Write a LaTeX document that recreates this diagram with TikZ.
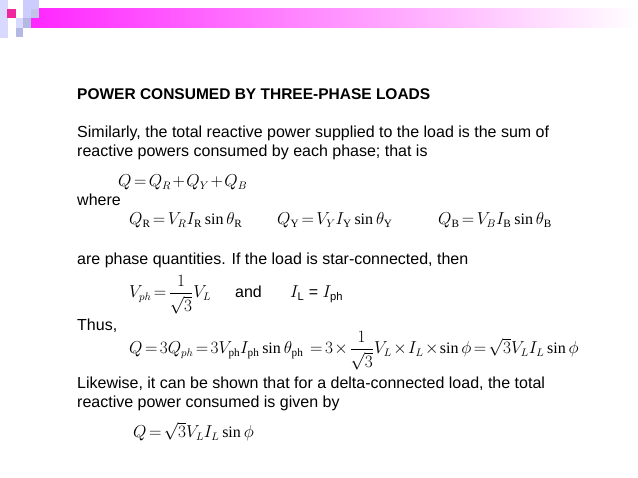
\documentclass[tikz,border=0pt]{standalone}
\usepackage{amsmath}
\usepackage{fontspec}
\setmainfont{Liberation Sans}
\setmathrm{Liberation Serif}
\begin{document}
\medmuskip=1.5mu \thickmuskip=2.5mu
\begin{tikzpicture}[x=1pt,y=-1pt,
  txt/.style={anchor=base west,inner sep=0pt,font=\fontsize{16}{19}\selectfont},
  eq/.style={anchor=base west,inner sep=0pt,font=\fontsize{16}{19}\selectfont}]
\useasboundingbox[fill=white] (0,0) rectangle (638,478);
% decoration
\shade[left color=magenta!85,right color=white] (30,9) rectangle (638,28);
\fill[blue!15] (0,0) rectangle (8,38);
\fill[blue!20] (23,0) rectangle (39,18);
\fill[blue!15] (23,18) rectangle (31,28);
\fill[magenta!85] (7,9) rectangle (16,18);
\fill[cyan!30!blue!25] (31,9) rectangle (39,18);
\fill[cyan!30!blue!30] (16,28) rectangle (23,37);
\fill[cyan!30!blue!30] (23,18) rectangle (31,28);
\fill[blue!15] (16,18) rectangle (23,28);
% text
\node[txt,font=\fontsize{15.5}{18}\selectfont\bfseries] (t) at (77,100) {POWER CONSUMED BY THREE-PHASE LOADS};
\node[txt] (l1) at (77,138) {Similarly, the total reactive power supplied to the load is the sum of};
\node[txt] (l2) at (77,157) {reactive powers consumed by each phase; that is};
\node[eq] (e1) at (118,187) {$Q=Q_R+Q_Y+Q_B$};
\node[txt] (w) at (77,206) {where};
\node[eq] (e2) at (129,225) {$Q_{\mathrm R}=V_RI_{\mathrm R}\sin\theta_{\mathrm R}$};
\node[eq] (e3) at (277,225) {$Q_{\mathrm Y}=V_YI_{\mathrm Y}\sin\theta_{\mathrm Y}$};
\node[eq] (e4) at (438,225) {$Q_{\mathrm B}=V_BI_{\mathrm B}\sin\theta_{\mathrm B}$};
\node[txt] (l3) at (77,265) {are phase quantities. If the load is star-connected, then};
\node[eq] (e5) at (129,298) {$V_{ph}=\dfrac{1}{\sqrt3}V_L$};
\node[txt] (and) at (235,298) {and};
\node[txt] (e6) at (290,298) {$I_{\text{L}}$ = $I_{\text{ph}}$};
\node[txt] (th) at (77,331) {Thus,};
\node[eq] (e7) at (129,354) {$Q=3Q_{ph}=3V_{\mathrm{ph}}I_{\mathrm{ph}}\sin\theta_{\mathrm{ph}}\ =3\times\dfrac{1}{\sqrt3}V_L\times I_L\times\sin\phi=\sqrt3V_LI_L\sin\phi$};
\node[txt] (l4) at (77,389) {Likewise, it can be shown that for a delta-connected load, the total};
\node[txt] (l5) at (77,408) {reactive power consumed is given by};
\node[eq] (e8) at (133,438) {$Q=\sqrt3V_LI_L\sin\phi$};
\end{tikzpicture}
\end{document}
